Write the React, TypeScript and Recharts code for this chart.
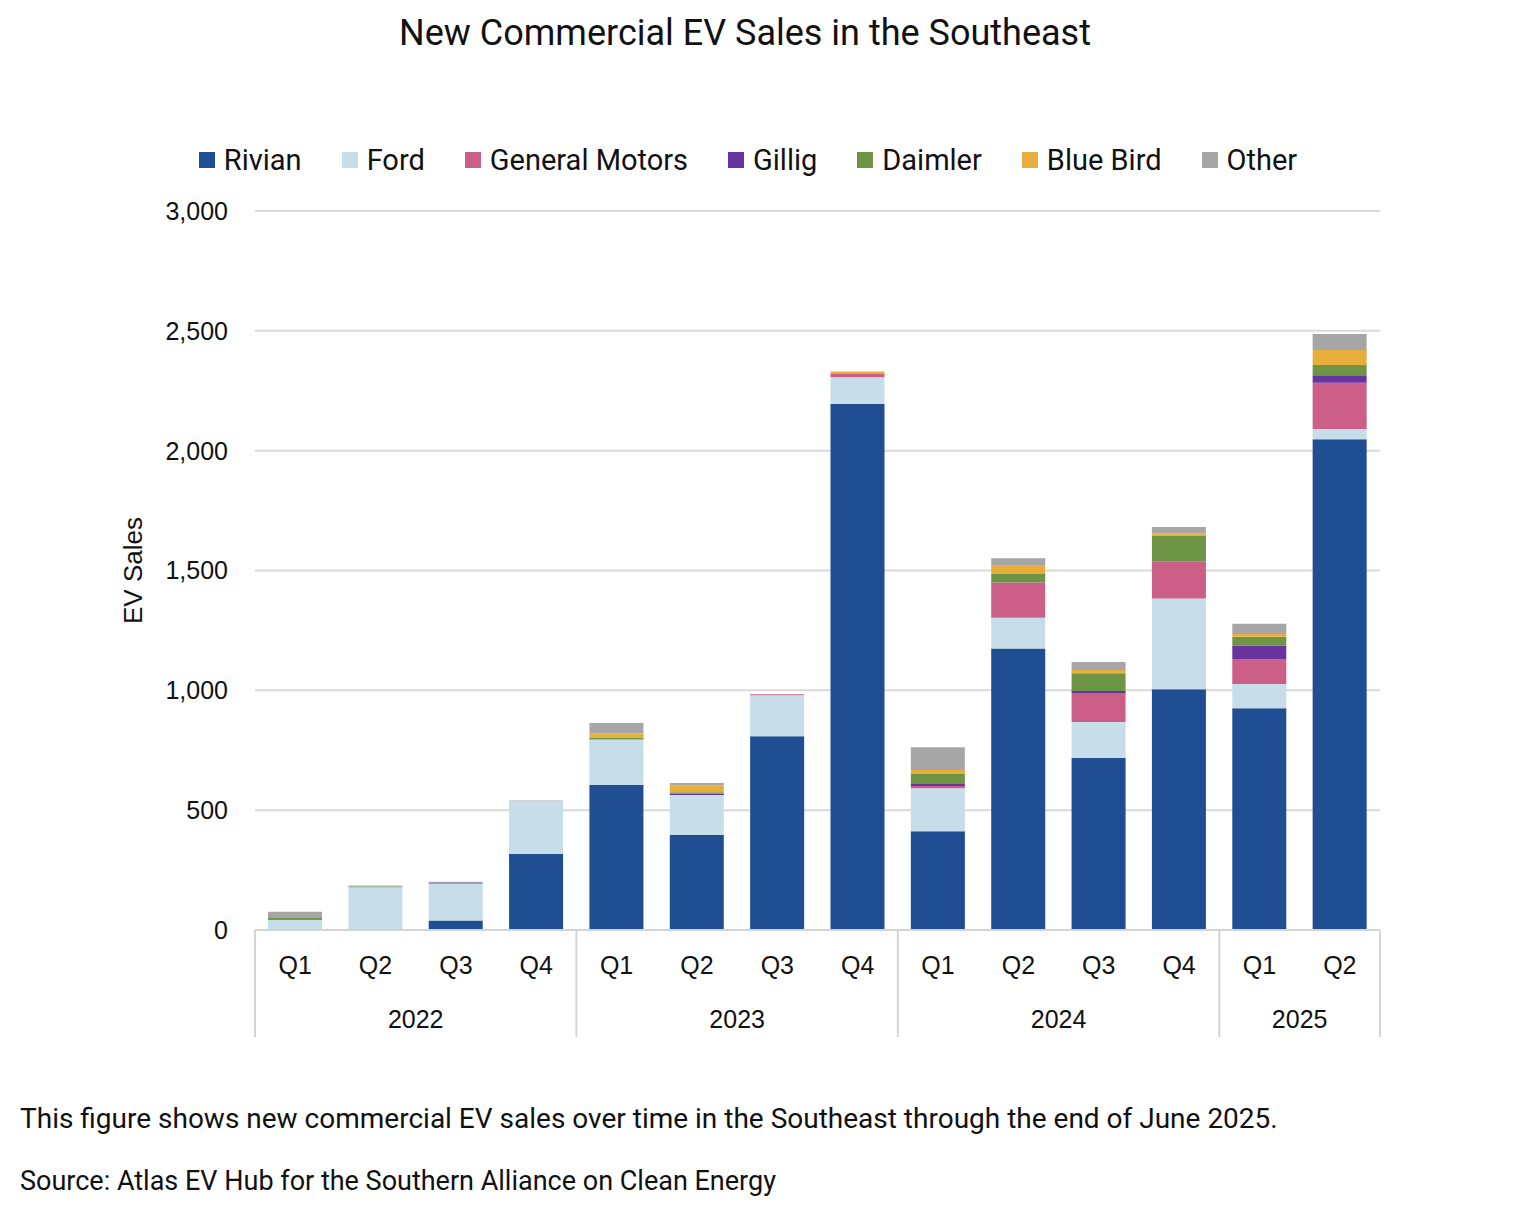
import React from "react";
import { BarChart, Bar, XAxis, YAxis, CartesianGrid, Label } from "recharts";

const quarters = ["Q1", "Q2", "Q3", "Q4", "Q1", "Q2", "Q3", "Q4", "Q1", "Q2", "Q3", "Q4", "Q1", "Q2"];
const years = ["2022", "2022", "2022", "2022", "2023", "2023", "2023", "2023", "2024", "2024", "2024", "2024", "2025", "2025"];

const rivian = [0, 0, 40, 317, 606, 396, 808, 2195, 412, 1175, 718, 1005, 925, 2048];
const ford = [42, 178, 154, 221, 189, 167, 172, 111, 179, 128, 150, 378, 101, 42];
const generalMotors = [2, 0, 0, 0, 0, 0, 4, 14, 10, 147, 121, 153, 103, 193];
const gillig = [2, 0, 4, 0, 0, 5, 0, 0, 8, 0, 8, 0, 57, 32];
const daimler = [4, 3, 0, 0, 8, 7, 0, 0, 42, 35, 74, 108, 38, 42];
const blueBird = [0, 0, 0, 0, 17, 28, 0, 10, 17, 35, 14, 10, 11, 63];
const other = [26, 5, 3, 2, 44, 10, 0, 0, 95, 31, 33, 28, 43, 67];

const yTicks = [0, 500, 1000, 1500, 2000, 2500, 3000];

const series = [
  { key: "Rivian", values: rivian, color: "#1F4E93" },
  { key: "Ford", values: ford, color: "#C8DDEA" },
  { key: "General Motors", values: generalMotors, color: "#CC5F88" },
  { key: "Gillig", values: gillig, color: "#69329E" },
  { key: "Daimler", values: daimler, color: "#6E9445" },
  { key: "Blue Bird", values: blueBird, color: "#E8AE3B" },
  { key: "Other", values: other, color: "#A6A6A6" },
];

const data = quarters.map((q, i) => {
  const row: Record<string, string | number> = { id: `${years[i]} ${q}`, q, year: years[i] };
  series.forEach((s) => (row[s.key] = s.values[i]));
  return row;
});

const axisFont = "'Liberation Sans', Arial, sans-serif";
const textFont = "Roboto, 'Noto Sans', sans-serif";

const QuarterTick = (props: any) => {
  const { x, y, payload } = props;
  const i = payload.index;
  const half = payload.offset || 40;
  const year = years[i];
  const first = i === 0 || years[i - 1] !== year;
  const last = i === years.length - 1;
  const n = years.filter((yv) => yv === year).length;
  return (
    <g>
      <text x={x} y={y} dy={44} textAnchor="middle" fontSize={25} fontFamily={axisFont} fill="#111">
        {quarters[i]}
      </text>
      {first && (
        <>
          <line x1={x - half} x2={x - half} y1={y} y2={y + 107} stroke="#d4d4d4" strokeWidth={2} />
          <text x={x + (n - 1) * half} y={y} dy={98} textAnchor="middle" fontSize={25} fontFamily={axisFont} fill="#111">
            {year}
          </text>
        </>
      )}
      {last && <line x1={x + half} x2={x + half} y1={y} y2={y + 107} stroke="#d4d4d4" strokeWidth={2} />}
    </g>
  );
};

const YLabel = (props: any) => {
  const { viewBox } = props;
  const cx = viewBox.x - 22;
  const cy = viewBox.y + viewBox.height / 2;
  return (
    <text x={cx} y={cy} transform={`rotate(-90, ${cx}, ${cy})`} textAnchor="middle" dominantBaseline="central" fontSize={26} fontFamily={axisFont} fill="#111">
      EV Sales
    </text>
  );
};

export default function App() {
  return (
    <div style={{ position: "absolute", left: 0, top: 0, width: 1536, height: 1216, background: "#fff" }}>
      <div style={{ position: "absolute", top: 12, left: 0, width: 1490, textAlign: "center", fontFamily: textFont, fontSize: 36, color: "#111" }}>
        New Commercial EV Sales in the Southeast
      </div>
      <div
        style={{
          position: "absolute",
          top: 143,
          left: 0,
          width: 1496,
          display: "flex",
          justifyContent: "center",
          gap: 40,
          fontFamily: textFont,
          fontSize: 29,
          color: "#111",
        }}
      >
        {series.map((s) => (
          <div key={s.key} style={{ display: "flex", alignItems: "center" }}>
            <span style={{ display: "inline-block", width: 16, height: 16, background: s.color, marginRight: 9 }} />
            <span>{s.key}</span>
          </div>
        ))}
      </div>
      <BarChart width={1536} height={1216} data={data} margin={{ top: 211, right: 156, bottom: 176, left: 155 }}>
        <CartesianGrid vertical={false} stroke="#d9d9d9" strokeWidth={2} />
        <XAxis
          dataKey="id"
          interval={0}
          height={110}
          tickLine={false}
          tickSize={0}
          tickMargin={0}
          axisLine={{ stroke: "#d4d4d4", strokeWidth: 2 }}
          tick={<QuarterTick />}
        />
        <YAxis
          width={100}
          domain={[0, 3000]}
          ticks={yTicks}
          axisLine={false}
          tickLine={false}
          tickSize={0}
          tickMargin={27}
          tickFormatter={(v: number) => v.toLocaleString("en-US")}
          tick={{ fontSize: 25, fontFamily: axisFont, fill: "#111" }}
        >
          <Label content={<YLabel />} />
        </YAxis>
        {series.map((s) => (
          <Bar key={s.key} dataKey={s.key} stackId="a" fill={s.color} barSize={54} isAnimationActive={false} />
        ))}
      </BarChart>
      <div style={{ position: "absolute", top: 1102, left: 20, fontFamily: textFont, fontSize: 28, color: "#111" }}>
        This figure shows new commercial EV sales over time in the Southeast through the end of June 2025.
      </div>
      <div style={{ position: "absolute", top: 1165, left: 20, fontFamily: textFont, fontSize: 27, color: "#111" }}>
        Source: Atlas EV Hub for the Southern Alliance on Clean Energy
      </div>
    </div>
  );
}
